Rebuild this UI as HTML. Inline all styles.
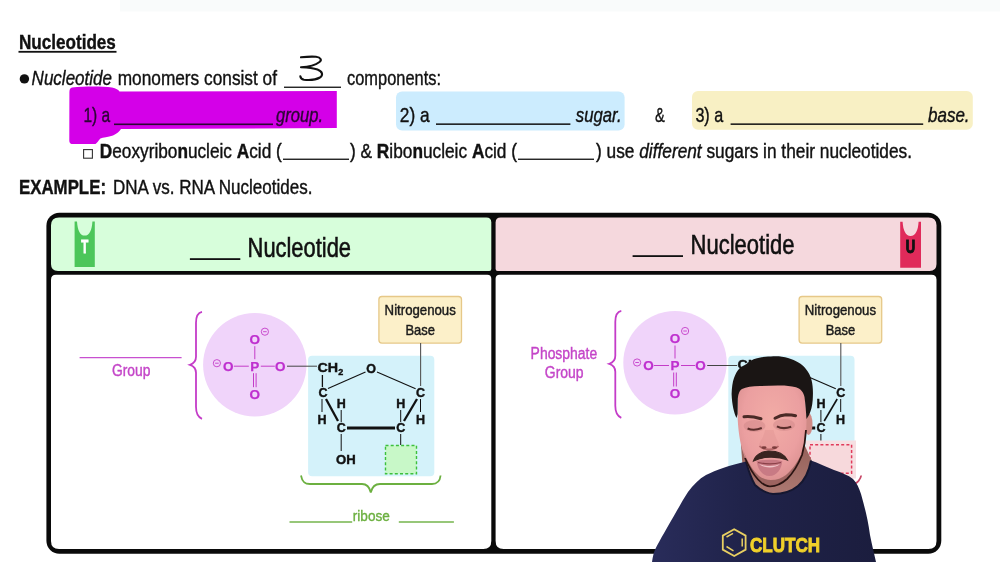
<!DOCTYPE html>
<html><head><meta charset="utf-8"><title>Nucleotides</title>
<style>
html,body{margin:0;padding:0;background:#fff;width:1000px;height:562px;overflow:hidden}
svg{display:block;filter:blur(0.45px)}
text{font-family:"Liberation Sans",sans-serif}
</style></head><body>
<svg width="1000" height="562" viewBox="0 0 1000 562">
<rect x="120" y="0" width="880" height="11.5" fill="#f9fbfb"/>
<text x="18.9" y="48.6" font-size="21" font-weight="bold" fill="#111" textLength="97" lengthAdjust="spacingAndGlyphs" stroke="#111" stroke-width="0.4">Nucleotides</text>
<rect x="18.5" y="50.9" width="98" height="1.8" fill="#111"/>
<circle cx="24.4" cy="78.9" r="4.7" fill="#111"/>
<text x="31.6" y="85" font-size="21" font-style="italic" fill="#111" textLength="80.4" lengthAdjust="spacingAndGlyphs" stroke="#111" stroke-width="0.4">Nucleotide</text>
<text x="117.7" y="85" font-size="21" fill="#111" textLength="159.3" lengthAdjust="spacingAndGlyphs" stroke="#111" stroke-width="0.4">monomers consist of</text>
<rect x="284" y="86.6" width="57" height="1.3" fill="#111"/>
<text x="347" y="85" font-size="21" fill="#111" textLength="94" lengthAdjust="spacingAndGlyphs" stroke="#111" stroke-width="0.4">components:</text>
<path d="M301,57.3 C306,56.8 312,56.5 316,56.8 C321,57.5 322,60 319.5,62 C315,65.5 306,67 301,67.3 C306,67.5 313,68 317.5,69.6 C322.5,71.5 323.5,75 320,77.5 C316,79.8 309,80.3 304,79.8 C301.5,79.4 300.5,78 300.3,76.2" fill="none" stroke="#111" stroke-width="2.1" stroke-linecap="round" stroke-linejoin="round"/>
<path d="M72,87.5 C85,86.3 102,86.3 112,87.5 C116,88.3 118.5,90 119.5,91.5 L336.8,91.1 L336.8,128 L121,129.1 C119.5,131.5 117,133.8 113,135.4 C108,137 103,137.2 100.4,138.5 C98.5,140.5 97,143.3 95.5,143.9 L71.5,143.9 C70,143.6 69.3,142.5 69.3,140.5 L69.4,92 C69.5,89 70.5,87.8 72,87.5 Z" fill="#d400e8"/>
<text x="83.5" y="121.9" font-size="21" fill="#2c0634" textLength="26.7" lengthAdjust="spacingAndGlyphs" stroke="#2c0634" stroke-width="0.4">1) a</text>
<rect x="114" y="123.5" width="159" height="1.6" fill="#2c0634"/>
<text x="276" y="121.9" font-size="21" font-style="italic" fill="#2c0634" textLength="47" lengthAdjust="spacingAndGlyphs" stroke="#2c0634" stroke-width="0.4">group.</text>
<rect x="396" y="91.6" width="228.6" height="38.8" rx="6" fill="#ccecfe"/>
<text x="399.8" y="121.8" font-size="21" fill="#111" textLength="29.8" lengthAdjust="spacingAndGlyphs" stroke="#111" stroke-width="0.4">2) a</text>
<rect x="436" y="123.4" width="134.4" height="1.5" fill="#111"/>
<text x="575.8" y="121.8" font-size="21" font-style="italic" fill="#111" textLength="45.8" lengthAdjust="spacingAndGlyphs" stroke="#111" stroke-width="0.4">sugar.</text>
<text x="655" y="121.8" font-size="21" fill="#111" textLength="9.8" lengthAdjust="spacingAndGlyphs" stroke="#111" stroke-width="0.4">&amp;</text>
<rect x="692" y="91" width="280.8" height="38.8" rx="6" fill="#f8f0c4"/>
<text x="695.4" y="121.8" font-size="21" fill="#111" textLength="27.8" lengthAdjust="spacingAndGlyphs" stroke="#111" stroke-width="0.4">3) a</text>
<rect x="730.6" y="123.4" width="192.6" height="1.5" fill="#111"/>
<text x="928" y="121.8" font-size="21" font-style="italic" fill="#111" textLength="41.6" lengthAdjust="spacingAndGlyphs" stroke="#111" stroke-width="0.4">base.</text>
<rect x="83.6" y="149.6" width="8.8" height="8.6" fill="none" stroke="#333" stroke-width="1.1"/>
<text x="99.8" y="157.8" font-size="19.5" fill="#111" textLength="182" lengthAdjust="spacingAndGlyphs" stroke="#111" stroke-width="0.4"><tspan font-weight="bold">D</tspan>eoxyribo<tspan font-weight="bold">n</tspan>ucleic <tspan font-weight="bold">A</tspan>cid (</text>
<rect x="283" y="158.6" width="66" height="1.3" fill="#111"/>
<text x="350" y="157.8" font-size="19.5" fill="#111" textLength="167" lengthAdjust="spacingAndGlyphs" stroke="#111" stroke-width="0.4">) &amp; <tspan font-weight="bold">R</tspan>ibo<tspan font-weight="bold">n</tspan>ucleic <tspan font-weight="bold">A</tspan>cid (</text>
<rect x="518" y="158.6" width="76" height="1.3" fill="#111"/>
<text x="596" y="157.8" font-size="19.5" fill="#111" textLength="316" lengthAdjust="spacingAndGlyphs" stroke="#111" stroke-width="0.4">) use <tspan font-style="italic">different</tspan> sugars in their nucleotides.</text>
<text x="19" y="194.4" font-size="20" font-weight="bold" fill="#111" textLength="87" lengthAdjust="spacingAndGlyphs" stroke="#111" stroke-width="0.4">EXAMPLE:</text>
<text x="113" y="194.4" font-size="20" fill="#111" textLength="199.4" lengthAdjust="spacingAndGlyphs" stroke="#111" stroke-width="0.4">DNA vs. RNA Nucleotides.</text>
<rect x="46.4" y="212.8" width="894.9" height="340.9" rx="13" fill="#0a0a0a"/>
<path d="M59,217.5 H486.3 Q491.3,217.5 491.3,222.5 V269.0 Q491.3,271.0 489.3,271.0 H58 Q51,271.0 51,264.0 V225.5 Q51,217.5 59,217.5 Z" fill="#d7fedb"/>
<path d="M500.6,217.5 H928.5 Q936.5,217.5 936.5,225.5 V264.0 Q936.5,271.0 929.5,271.0 H497.6 Q495.6,271.0 495.6,269.0 V222.5 Q495.6,217.5 500.6,217.5 Z" fill="#f5d8dd"/>
<path d="M56,274.8 H487.3 Q491.3,274.8 491.3,278.8 V541.0 Q491.3,549.0 483.3,549.0 H59 Q51,549.0 51,541.0 V279.8 Q51,274.8 56,274.8 Z" fill="#fff"/>
<path d="M499.6,274.8 H931.5 Q936.5,274.8 936.5,279.8 V541.0 Q936.5,549.0 928.5,549.0 H503.6 Q495.6,549.0 495.6,541.0 V278.8 Q495.6,274.8 499.6,274.8 Z" fill="#fff"/>
<path d="M74.6,221.4 H77 C77.5,230 80,235.6 84.7,235.6 C89.4,235.6 92,230 92.4,221.4 H94.8 V267 H74.6 Z" fill="#4cc65a"/>
<text x="84.7" y="253.4" font-size="17.5" font-weight="bold" fill="#fff" textLength="7" lengthAdjust="spacingAndGlyphs" text-anchor="middle" stroke="#fff" stroke-width="0.9">T</text>
<path d="M900.2,221.8 H902.6 C903.1,230.5 905.6,236 910.6,236 C915.6,236 918.1,230.5 918.6,221.8 H921 V267.7 H900.2 Z" fill="#e02a5a"/>
<text x="910.5" y="252.8" font-size="17.5" font-weight="bold" fill="#111" textLength="9.4" lengthAdjust="spacingAndGlyphs" text-anchor="middle" stroke="#111" stroke-width="1.1">U</text>
<rect x="189.9" y="258.2" width="50.4" height="1.8" fill="#111"/>
<text x="247.6" y="256.6" font-size="27.5" fill="#111" textLength="103.4" lengthAdjust="spacingAndGlyphs" stroke="#111" stroke-width="0.6">Nucleotide</text>
<rect x="632.6" y="255.2" width="50.4" height="1.8" fill="#111"/>
<text x="690.6" y="253.8" font-size="27.5" fill="#111" textLength="104" lengthAdjust="spacingAndGlyphs" stroke="#111" stroke-width="0.6">Nucleotide</text>
<circle cx="254.8" cy="364.8" r="51.7" fill="#f0d4fa"/>
<path d="M202,311.8 C197,312.8 196,316.8 196,322.8 V356.8 C196,361.8 193,363.8 190,364.8 C193,365.8 196,367.8 196,372.8 V406.8 C196,412.8 197,416.8 202,418.8" fill="none" stroke="#c43cc8" stroke-width="1.8"/>
<g stroke="#c43cc8" stroke-width="1" fill="none"><line x1="254.8" y1="346.2" x2="254.8" y2="359.2"/><line x1="233.8" y1="366.2" x2="248.8" y2="366.2"/><line x1="260.8" y1="366.2" x2="274.8" y2="366.2"/><line x1="253.5" y1="373.2" x2="253.5" y2="387.2"/><line x1="256.1" y1="373.2" x2="256.1" y2="387.2"/></g>
<text x="254.8" y="344.0" font-size="13.5" font-weight="bold" fill="#bf30cf" text-anchor="middle" stroke="#bf30cf" stroke-width="0.25">O</text>
<text x="254.8" y="370.8" font-size="13.5" font-weight="bold" fill="#bf30cf" text-anchor="middle" stroke="#bf30cf" stroke-width="0.25">P</text>
<text x="228.2" y="370.8" font-size="13.5" font-weight="bold" fill="#bf30cf" text-anchor="middle" stroke="#bf30cf" stroke-width="0.25">O</text>
<text x="280.2" y="370.8" font-size="13.5" font-weight="bold" fill="#bf30cf" text-anchor="middle" stroke="#bf30cf" stroke-width="0.25">O</text>
<text x="254.8" y="398.8" font-size="13.5" font-weight="bold" fill="#bf30cf" text-anchor="middle" stroke="#bf30cf" stroke-width="0.25">O</text>
<circle cx="264.9" cy="331.7" r="3.6" fill="none" stroke="#c43cc8" stroke-width="0.9"/><line x1="263.1" y1="331.7" x2="266.7" y2="331.7" stroke="#c43cc8" stroke-width="0.9"/>
<circle cx="216.9" cy="363.2" r="3.6" fill="none" stroke="#c43cc8" stroke-width="0.9"/><line x1="215.1" y1="363.2" x2="218.7" y2="363.2" stroke="#c43cc8" stroke-width="0.9"/>
<rect x="308.1" y="355.8" width="126.2" height="120.4" rx="4" fill="#d4f2fa"/>
<line x1="287" y1="366.2" x2="317" y2="366.2" stroke="#444" stroke-width="1"/>
<rect x="378.9" y="296.5" width="82.6" height="46.6" rx="3" fill="#fcf0c9" stroke="#e6c888" stroke-width="1.3"/>
<text x="420.2" y="315.4" font-size="15" fill="#1a1a1a" textLength="71.2" lengthAdjust="spacingAndGlyphs" text-anchor="middle" stroke="#1a1a1a" stroke-width="0.45">Nitrogenous</text>
<text x="420.2" y="334.6" font-size="15" fill="#1a1a1a" textLength="29.5" lengthAdjust="spacingAndGlyphs" text-anchor="middle" stroke="#1a1a1a" stroke-width="0.45">Base</text>
<line x1="420.6" y1="343" x2="420.6" y2="386" stroke="#555" stroke-width="1.1"/>
<g stroke="#111" fill="none"><line x1="322.4" y1="375" x2="322.4" y2="387" stroke-width="1.3"/><line x1="328" y1="388.5" x2="365.5" y2="372" stroke-width="1.1"/><line x1="377" y1="372" x2="415.6" y2="388.8" stroke-width="1.1"/><line x1="322" y1="399" x2="322" y2="412" stroke-width="1"/><line x1="326" y1="399" x2="338" y2="421" stroke-width="2.3"/><line x1="347" y1="428" x2="395" y2="428" stroke-width="3"/><line x1="404" y1="421" x2="417" y2="399" stroke-width="2.3"/><line x1="420.5" y1="399" x2="420.5" y2="412" stroke-width="1"/><line x1="341.2" y1="410" x2="341.2" y2="422" stroke-width="1"/><line x1="400.7" y1="410" x2="400.7" y2="422" stroke-width="1"/><line x1="341.2" y1="434" x2="341.2" y2="451" stroke-width="1"/><line x1="400.7" y1="434" x2="400.7" y2="445" stroke-width="1"/></g>
<text x="317.4" y="372" font-size="12.5" font-weight="bold" fill="#111" textLength="20.6" lengthAdjust="spacingAndGlyphs" stroke="#111" stroke-width="0.4">CH</text>
<text x="338.2" y="375.2" font-size="9" font-weight="bold" fill="#111" stroke="#111" stroke-width="0.4">2</text>
<text x="371" y="373" font-size="12.5" font-weight="bold" fill="#111" text-anchor="middle" stroke="#111" stroke-width="0.4">O</text>
<text x="323" y="396.6" font-size="12.5" font-weight="bold" fill="#111" text-anchor="middle" stroke="#111" stroke-width="0.4">C</text>
<text x="420.5" y="396.6" font-size="12.5" font-weight="bold" fill="#111" text-anchor="middle" stroke="#111" stroke-width="0.4">C</text>
<text x="322" y="423.6" font-size="12.5" font-weight="bold" fill="#111" text-anchor="middle" stroke="#111" stroke-width="0.4">H</text>
<text x="341.2" y="408.3" font-size="12.5" font-weight="bold" fill="#111" text-anchor="middle" stroke="#111" stroke-width="0.4">H</text>
<text x="341.2" y="432.2" font-size="12.5" font-weight="bold" fill="#111" text-anchor="middle" stroke="#111" stroke-width="0.4">C</text>
<text x="400.7" y="432.2" font-size="12.5" font-weight="bold" fill="#111" text-anchor="middle" stroke="#111" stroke-width="0.4">C</text>
<text x="400.7" y="408.3" font-size="12.5" font-weight="bold" fill="#111" text-anchor="middle" stroke="#111" stroke-width="0.4">H</text>
<text x="420.4" y="423.6" font-size="12.5" font-weight="bold" fill="#111" text-anchor="middle" stroke="#111" stroke-width="0.4">H</text>
<text x="345.8" y="463.9" font-size="12.5" font-weight="bold" fill="#111" textLength="19.7" lengthAdjust="spacingAndGlyphs" text-anchor="middle" stroke="#111" stroke-width="0.4">OH</text>
<rect x="385.5" y="445.5" width="31" height="28.3" fill="#c8f8c8" stroke="#3cc03c" stroke-width="1.4" stroke-dasharray="3,2.2"/>
<line x1="79.6" y1="357.6" x2="181.6" y2="357.6" stroke="#c850d0" stroke-width="1.2"/>
<text x="112" y="376.3" font-size="16" fill="#c445c8" textLength="38.4" lengthAdjust="spacingAndGlyphs" stroke="#c445c8" stroke-width="0.4">Group</text>
<path d="M301,475.5 C302,481 304,484 310,484 H362 C367,484 369.5,487 370.8,492.5 C372,487 374.5,484 380,484 H432 C438,484 440,481 440.6,475.5" fill="none" stroke="#6cb040" stroke-width="1.8"/>
<text x="352.8" y="520.7" font-size="15.5" fill="#6cb040" textLength="37" lengthAdjust="spacingAndGlyphs" stroke="#6cb040" stroke-width="0.4">ribose</text>
<rect x="289.5" y="521.3" width="62.7" height="1.4" fill="#6cb040"/>
<rect x="398.8" y="521.3" width="55.1" height="1.4" fill="#6cb040"/>
<circle cx="675.0" cy="362.7" r="51.7" fill="#f0d4fa"/>
<path d="M621.3,310.8 C616.3,311.8 615.3,315.8 615.3,321.8 V355.8 C615.3,360.8 612.3,362.8 609.3,363.8 C612.3,364.8 615.3,366.8 615.3,371.8 V405.8 C615.3,411.8 616.3,415.8 621.3,417.8" fill="none" stroke="#c43cc8" stroke-width="1.8"/>
<g stroke="#c43cc8" stroke-width="1" fill="none"><line x1="675.0" y1="345.5" x2="675.0" y2="358.5"/><line x1="654.0" y1="365.5" x2="669.0" y2="365.5"/><line x1="681.0" y1="365.5" x2="695.0" y2="365.5"/><line x1="673.7" y1="372.5" x2="673.7" y2="386.5"/><line x1="676.3" y1="372.5" x2="676.3" y2="386.5"/></g>
<text x="675.0" y="343.3" font-size="13.5" font-weight="bold" fill="#bf30cf" text-anchor="middle" stroke="#bf30cf" stroke-width="0.25">O</text>
<text x="675.0" y="370.1" font-size="13.5" font-weight="bold" fill="#bf30cf" text-anchor="middle" stroke="#bf30cf" stroke-width="0.25">P</text>
<text x="648.4" y="370.1" font-size="13.5" font-weight="bold" fill="#bf30cf" text-anchor="middle" stroke="#bf30cf" stroke-width="0.25">O</text>
<text x="700.4" y="370.1" font-size="13.5" font-weight="bold" fill="#bf30cf" text-anchor="middle" stroke="#bf30cf" stroke-width="0.25">O</text>
<text x="675.0" y="398.1" font-size="13.5" font-weight="bold" fill="#bf30cf" text-anchor="middle" stroke="#bf30cf" stroke-width="0.25">O</text>
<circle cx="685.1" cy="331.0" r="3.6" fill="none" stroke="#c43cc8" stroke-width="0.9"/><line x1="683.3" y1="331.0" x2="686.9" y2="331.0" stroke="#c43cc8" stroke-width="0.9"/>
<circle cx="637.1" cy="362.5" r="3.6" fill="none" stroke="#c43cc8" stroke-width="0.9"/><line x1="635.3" y1="362.5" x2="638.9" y2="362.5" stroke="#c43cc8" stroke-width="0.9"/>
<rect x="728.3" y="355.8" width="126.2" height="120.4" rx="4" fill="#d4f2fa"/>
<line x1="707.2" y1="365.5" x2="737.2" y2="365.5" stroke="#444" stroke-width="1"/>
<rect x="799.0999999999999" y="296.5" width="82.6" height="46.6" rx="3" fill="#fcf0c9" stroke="#e6c888" stroke-width="1.3"/>
<text x="840.4" y="315.4" font-size="15" fill="#1a1a1a" textLength="71.2" lengthAdjust="spacingAndGlyphs" text-anchor="middle" stroke="#1a1a1a" stroke-width="0.45">Nitrogenous</text>
<text x="840.4" y="334.6" font-size="15" fill="#1a1a1a" textLength="29.5" lengthAdjust="spacingAndGlyphs" text-anchor="middle" stroke="#1a1a1a" stroke-width="0.45">Base</text>
<line x1="840.8" y1="343" x2="840.8" y2="386" stroke="#555" stroke-width="1.1"/>
<g stroke="#111" fill="none"><line x1="742.5999999999999" y1="375" x2="742.5999999999999" y2="387" stroke-width="1.3"/><line x1="748.2" y1="388.5" x2="785.7" y2="372" stroke-width="1.1"/><line x1="797.2" y1="372" x2="835.8" y2="388.8" stroke-width="1.1"/><line x1="742.2" y1="399" x2="742.2" y2="412" stroke-width="1"/><line x1="746.2" y1="399" x2="758.2" y2="421" stroke-width="1.6"/><line x1="767.2" y1="428" x2="815.2" y2="428" stroke-width="3"/><line x1="824.2" y1="421" x2="837.2" y2="399" stroke-width="1.6"/><line x1="840.7" y1="399" x2="840.7" y2="412" stroke-width="1"/><line x1="761.4" y1="410" x2="761.4" y2="422" stroke-width="1"/><line x1="820.9" y1="410" x2="820.9" y2="422" stroke-width="1"/><line x1="761.4" y1="434" x2="761.4" y2="451" stroke-width="1"/><line x1="820.9" y1="434" x2="820.9" y2="445" stroke-width="1"/></g>
<text x="737.5999999999999" y="368.5" font-size="12.5" font-weight="bold" fill="#111" textLength="20.6" lengthAdjust="spacingAndGlyphs" stroke="#111" stroke-width="0.4">CH</text>
<text x="758.4" y="371.7" font-size="9" font-weight="bold" fill="#111" stroke="#111" stroke-width="0.4">2</text>
<text x="791.2" y="373" font-size="12.5" font-weight="bold" fill="#111" text-anchor="middle" stroke="#111" stroke-width="0.4">O</text>
<text x="743.2" y="396.6" font-size="12.5" font-weight="bold" fill="#111" text-anchor="middle" stroke="#111" stroke-width="0.4">C</text>
<text x="840.7" y="396.6" font-size="12.5" font-weight="bold" fill="#111" text-anchor="middle" stroke="#111" stroke-width="0.4">C</text>
<text x="742.2" y="423.6" font-size="12.5" font-weight="bold" fill="#111" text-anchor="middle" stroke="#111" stroke-width="0.4">H</text>
<text x="761.4" y="408.3" font-size="12.5" font-weight="bold" fill="#111" text-anchor="middle" stroke="#111" stroke-width="0.4">H</text>
<text x="761.4" y="432.2" font-size="12.5" font-weight="bold" fill="#111" text-anchor="middle" stroke="#111" stroke-width="0.4">C</text>
<text x="820.9" y="432.2" font-size="12.5" font-weight="bold" fill="#111" text-anchor="middle" stroke="#111" stroke-width="0.4">C</text>
<text x="820.9" y="408.3" font-size="12.5" font-weight="bold" fill="#111" text-anchor="middle" stroke="#111" stroke-width="0.4">H</text>
<text x="840.5999999999999" y="423.6" font-size="12.5" font-weight="bold" fill="#111" text-anchor="middle" stroke="#111" stroke-width="0.4">H</text>
<text x="766.0" y="463.9" font-size="12.5" font-weight="bold" fill="#111" textLength="19.7" lengthAdjust="spacingAndGlyphs" text-anchor="middle" stroke="#111" stroke-width="0.4">OH</text>
<rect x="806" y="440.5" width="50" height="38" fill="#f6dfe2"/>
<rect x="810" y="444.8" width="41.6" height="28.4" fill="#f7d9dc" stroke="#e03a5a" stroke-width="1.5" stroke-dasharray="3,2.2"/>
<text x="530.6" y="359" font-size="16" fill="#c445c8" textLength="66.6" lengthAdjust="spacingAndGlyphs" stroke="#c445c8" stroke-width="0.4">Phosphate</text>
<text x="544.8" y="378.4" font-size="16" fill="#c445c8" textLength="38.7" lengthAdjust="spacingAndGlyphs" stroke="#c445c8" stroke-width="0.4">Group</text>
<path d="M849,484.5 C854,484.5 857,483 858.5,481 C860,479 861,477 861.2,475.5" fill="none" stroke="#c84868" stroke-width="1.8"/>

<defs>
<radialGradient id="skin" cx="0.5" cy="0.35" r="0.7">
<stop offset="0" stop-color="#f2aca6"/><stop offset="0.6" stop-color="#eb9fa0"/><stop offset="1" stop-color="#d48a8a"/>
</radialGradient>
<linearGradient id="shirtg" x1="0" y1="0" x2="1" y2="0">
<stop offset="0" stop-color="#292c5a"/><stop offset="0.4" stop-color="#20234a"/><stop offset="1" stop-color="#1b1d3e"/>
</linearGradient>
<linearGradient id="neckg" x1="0" y1="0" x2="0" y2="1">
<stop offset="0" stop-color="#94605a"/><stop offset="1" stop-color="#b07c74"/>
</linearGradient>
</defs>
<!-- neck (extends under shirt) -->
<path d="M741,445 L804.5,445 L811.5,460 L812,475 L800,500 L745,500 Z" fill="url(#neckg)"/>
<!-- shirt -->
<path d="M652,562 C653,555 654,552 655,549.7 C660,540 668,526 674,515.8 C679,507 684,498 688,492 C693,485 699,479 706,475 C716,470 730,465 746,461.5 C748,469 751,478 755,485 C760,490 766,493 773,494 C782,494 792,491 798,486 C804,481 809,471 811,460.5 C818,463 826,467 834,470 C842,473 848,475 853,479 C857,483 859,488 861,494 C865,508 868,520 870,535 C872,545 874,553 876,562 Z" fill="url(#shirtg)"/>
<path d="M746,461.5 C748,469 751,478 755,485 C760,490 766,493 773,494 C782,494 792,491 798,486 C804,481 809,471 811,460.5" stroke="#151730" stroke-width="2" fill="none"/>
<!-- ear -->
<ellipse cx="808.5" cy="424" rx="4" ry="11" fill="#d08a86"/>
<!-- face -->
<path d="M738,390 C745,384 760,383 771,383 C785,383 800,384 805,392 L806.5,420 C806.5,432 805,445 802,455 C798,466 793,474 787,479 C782,483.5 776,486 770,486 C764,486 759,482 755,477 C750,470 746,462 743,452 C740,443 738,430 737.5,415 Z" fill="url(#skin)"/>
<!-- stubble / beard -->
<path d="M743,450 C747,462 752,472 758,479 C762,483.5 766,485.5 770,485.5 C776,485.5 782,483 787,478 C793,472 798,464 802,453 C797,463 792,470 786,475 C782,478 777,480 771,480 C765,480 761,478 757,474 C751,468 747,460 743,450 Z" fill="#6a4038" opacity="0.55"/>
<path d="M745,458 C749,467 753,474 758,479.5 C762,484 766,486.3 770,486.3 C776,486.3 782,483.5 787,479 C793,473 798,465 802,455 C804,448 805.5,440 806,430" stroke="#2a1412" stroke-width="1.8" fill="none"/>
<!-- hair -->
<path d="M736.5,418 C734,413 732,405 731.6,394 C731.8,388 732.5,382 734,378 C735.5,374 737,371 739,369 C741,367 743.5,365.5 746.5,364 C749,361.5 752,359.5 757,358.2 C762,357 766,356.5 771,356.5 C777,356 783,356.5 788,358 C796,360.5 802,364 805.5,368.5 C808.5,372 810.5,376 811.5,380 C813,386 813.2,392 812.7,400 C812.3,406 811,411 809,415 L806.5,419 C806,412 805.5,404 804.5,397 C803.5,392 801,389 796,387.2 C790,385.8 784,385.3 778,385.5 C772,385.8 766,386 760,386 C752,386 746,387 742,389 C739,391 738,395 737.8,400 L737.6,414 Z" fill="#1a1514"/>
<!-- eye sockets -->
<ellipse cx="754.5" cy="426" rx="11" ry="6" fill="#c88082" opacity="0.4"/>
<ellipse cx="784" cy="425" rx="11" ry="6" fill="#c88082" opacity="0.4"/>
<!-- eyebrows -->
<path d="M744,416.8 C749,416 755,417 761,418.8" stroke="#4a2a26" stroke-width="3" fill="none" stroke-linecap="round"/>
<path d="M775,418.3 C779,416 783,415 786,414.8 C790,414.8 793,415 795.6,415.7" stroke="#4a2a26" stroke-width="3" fill="none" stroke-linecap="round"/>
<!-- eyes -->
<path d="M747.6,428.5 C752,430.5 757,430 761.8,428.1" stroke="#5a2e2c" stroke-width="2.1" fill="none"/>
<path d="M776.9,426.4 C781,428.6 786,428.6 791.2,426.8" stroke="#5a2e2c" stroke-width="2.1" fill="none"/>
<!-- nose -->
<path d="M765,430 C764,437 760,441 759,445 C761,449.5 776,449.5 779,445 C778,441 775,437 773.5,430 Z" fill="#dc8e90" opacity="0.35"/>
<path d="M759.5,446 C763,450.5 775,450.5 778.5,446" stroke="#a85a5c" stroke-width="1.6" fill="none" opacity="0.8"/>
<ellipse cx="764" cy="447.6" rx="2.6" ry="1.3" fill="#7a3c3c"/>
<ellipse cx="774.5" cy="447.6" rx="2.6" ry="1.3" fill="#7a3c3c"/>
<!-- mustache -->
<path d="M753.5,461 C755,455.5 761,451.5 768,451 C776,450.8 784,453.5 787.3,460 C782,457.8 776,457 770,457.2 C764,457.2 758.5,458.5 753.5,461 Z" fill="#3a2420" stroke="#3a2420" stroke-width="1.2"/>
<!-- mouth -->
<path d="M756.7,461 C764,459.3 775,459.3 782.3,461 C781.5,469 777,476 769.5,476 C762,476 757.5,469 756.7,461 Z" fill="#c87a84"/>
<path d="M759,464 C765,466.5 775,466.5 780,464 C776,468.5 764,468.5 759,464 Z" fill="#f0c4c8"/>
<path d="M758,462.5 C765,464 775,464 781,462.5" stroke="#8a4048" stroke-width="1.2" fill="none"/>
<!-- logo -->
<path d="M734.2,529.2 L745.6,535.6 L745.6,549.6 L734.2,556 L722.8,549.6 L722.8,535.6 Z" fill="none" stroke="#e8cf62" stroke-width="1.8"/>
<path d="M742.2,538.5 L742.2,546.5" stroke="#e8cf62" stroke-width="1.5"/>
<path d="M726.5,546.5 L733.5,550.8" stroke="#e8cf62" stroke-width="1.5"/>
<path d="M726.5,537 L733,533.3" stroke="#e8cf62" stroke-width="1.5"/>

<text x="750" y="552" font-size="20" font-weight="bold" fill="#f0d02a" textLength="70.2" lengthAdjust="spacingAndGlyphs" stroke="#f0d02a" stroke-width="0.9">CLUTCH</text>
</svg>
</body></html>
